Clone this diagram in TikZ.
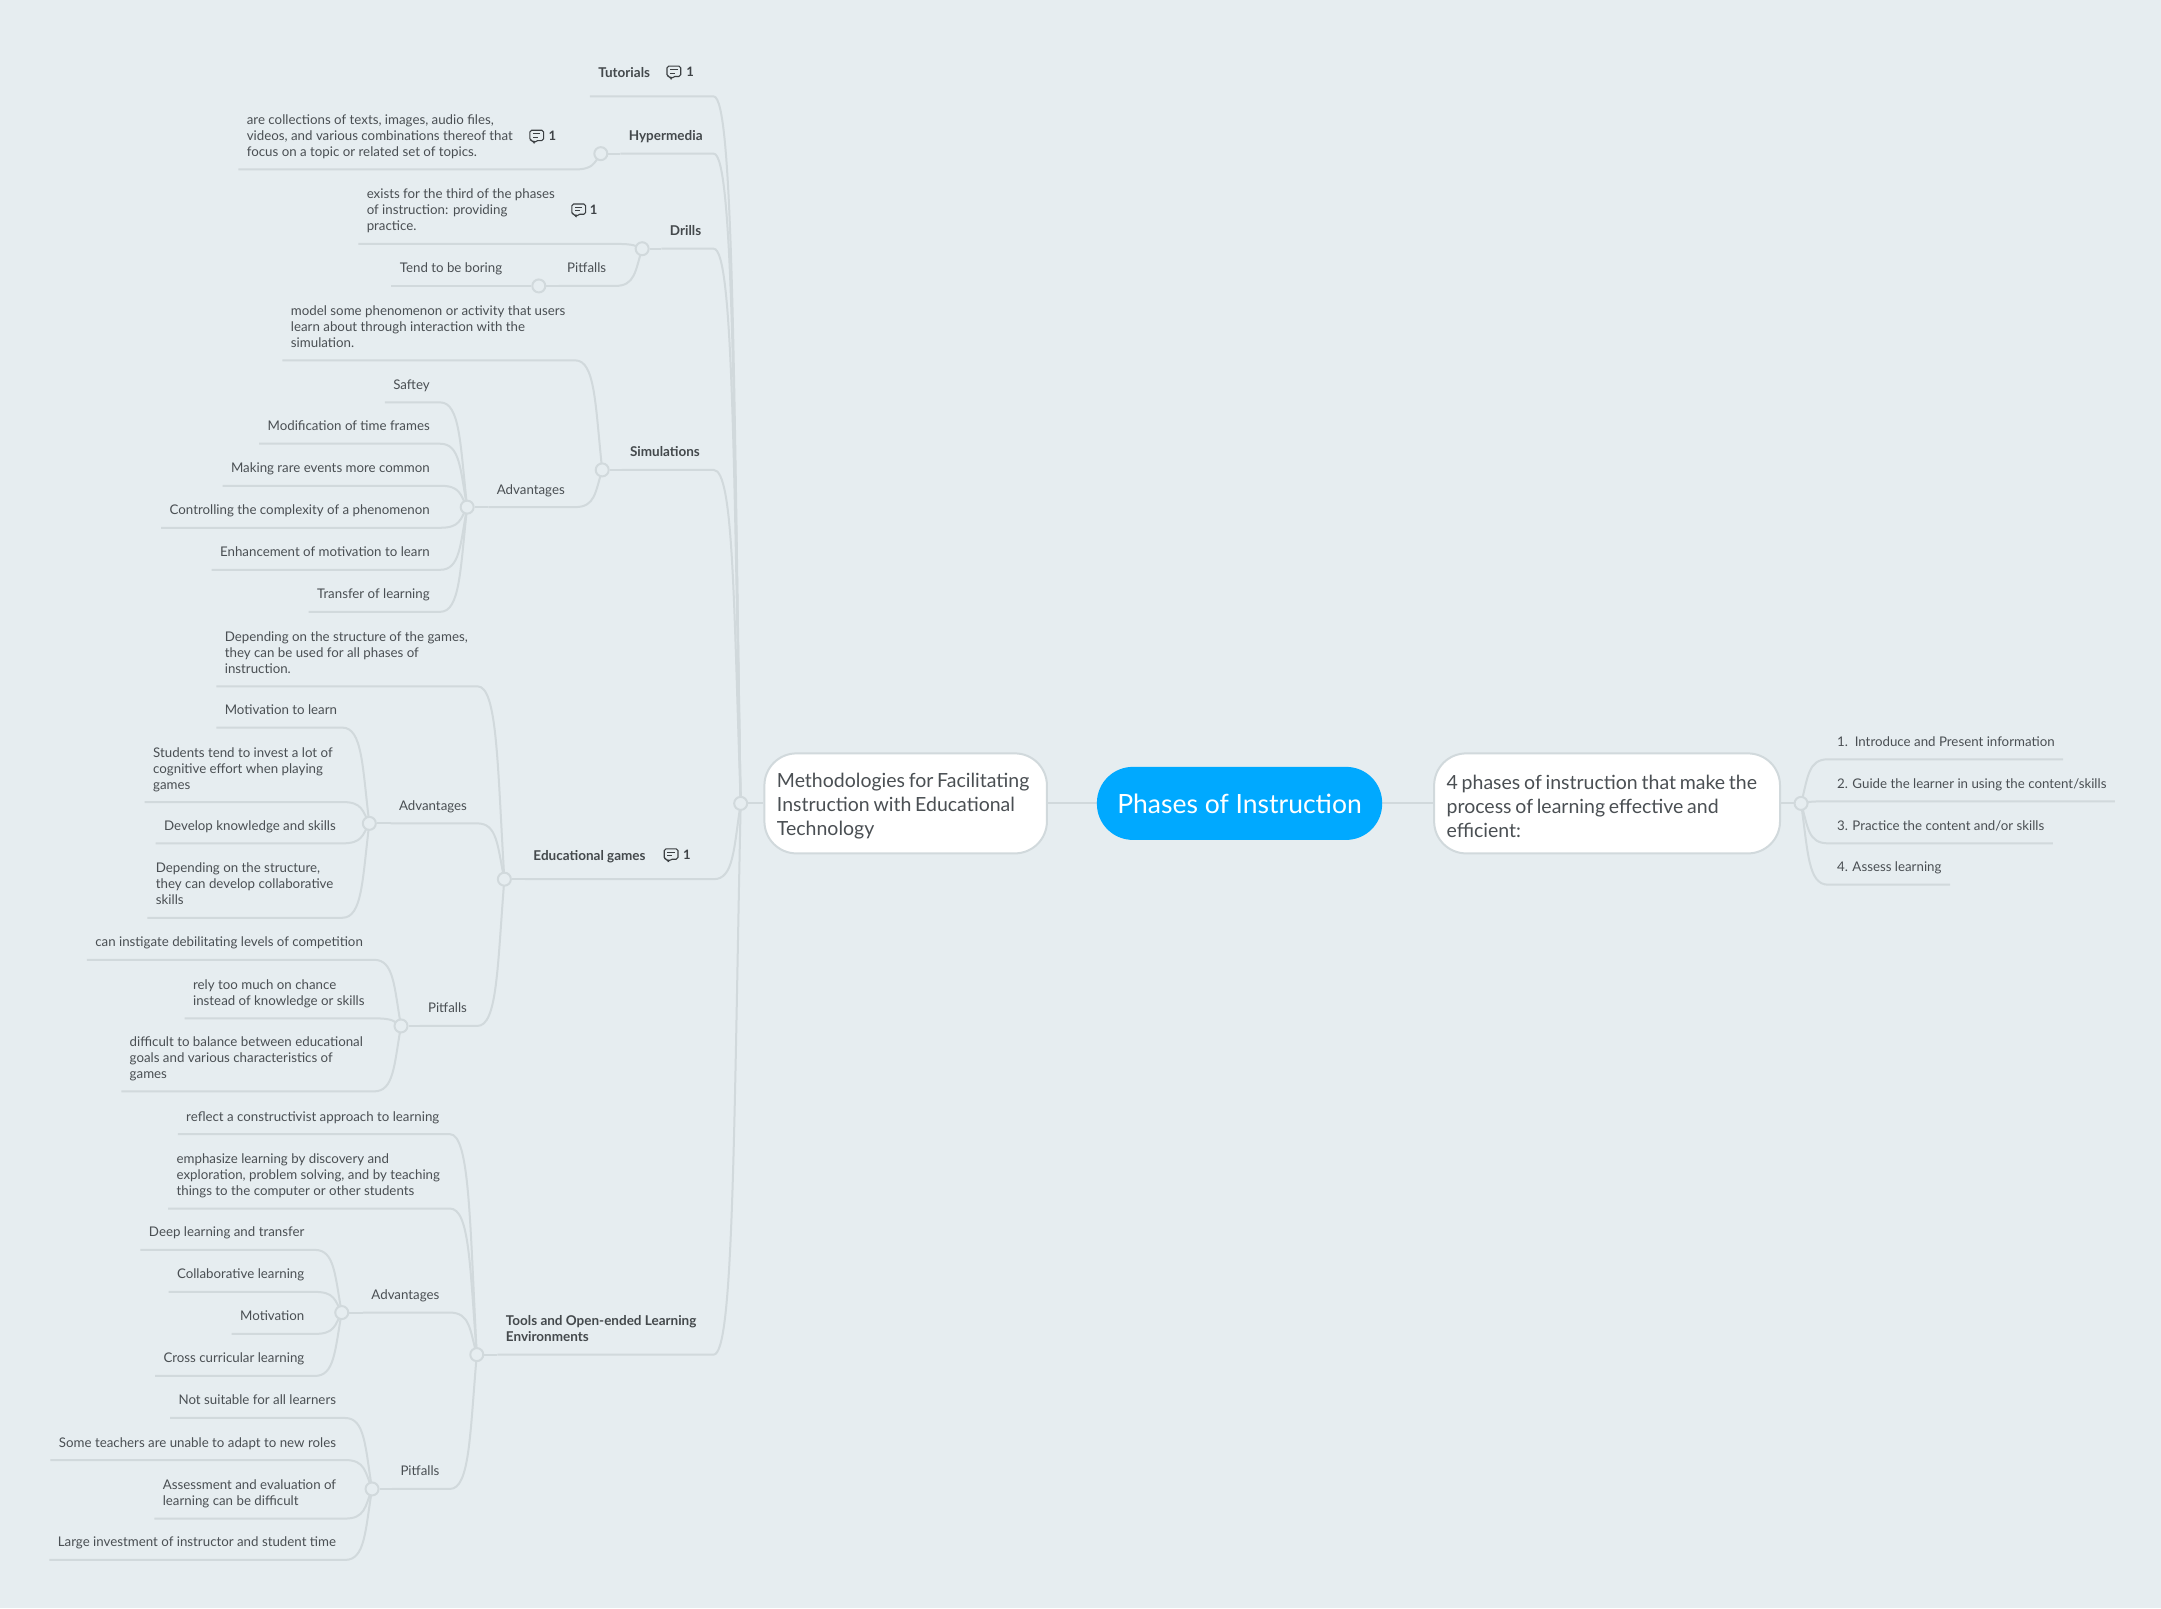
\documentclass[tikz,border=0pt]{standalone}
\usepackage{fontspec}
\setmainfont{Lato}
\usetikzlibrary{calc,backgrounds}
\definecolor{bgcol}{HTML}{E6EDF0}
\definecolor{linecol}{HTML}{D1D9DC}
\definecolor{inkcol}{HTML}{4A4F53}
\definecolor{topcol}{HTML}{00A9FF}
\newcommand{\lk}[2]{\draw[link] let \p1=(#1.south west), \p2=(#2) in (\p1) -- (\x2-27pt,\y1) .. controls (\x2-7pt,\y1) and (\x2-7pt,{\y1+0.4*(\y2-\y1)}) .. (\p2);}
\newcommand{\rk}[2]{\draw[link] let \p1=(#1.south east), \p2=(#2) in (\p1) -- (\x2+27pt,\y1) .. controls (\x2+7pt,\y1) and (\x2+7pt,{\y1+0.4*(\y2-\y1)}) .. (\p2);}
\newcommand{\jk}[2]{\draw[link] (#1) -- (#2.south west);}
\tikzset{
  link/.style={draw=linecol,line width=2pt},
  joint/.style={circle,draw=linecol,line width=2pt,fill=bgcol,inner sep=0pt,minimum size=13pt},
  leaf/.style={anchor=south west,text=inkcol,align=left,inner xsep=6*1.378pt,inner ysep=8pt,
    font=\fontsize{13.3}{16}\selectfont,
    execute at begin node=\strut,execute at end node=\strut},
  leafr/.style={leaf,anchor=south east,align=right},
  head/.style={leaf,font=\fontsize{13.5}{16}\selectfont\bfseries,text=inkcol!92!black},
  headr/.style={head,anchor=south east,align=right},
  big/.style={rounded corners=32pt,draw=linecol,line width=2pt,fill=white,text=inkcol,align=left,anchor=west,
    text width=#1*1.378pt-25pt,inner xsep=12.5pt,inner ysep=0pt,minimum height=100pt,font=\fontsize{19.5}{24}\selectfont,
    execute at begin node={\spaceskip=.193em\rightskip=-10pt plus 1fil\rule{0pt}{20pt}}},
  num/.style={text=inkcol!85!black,font=\fontsize{13}{16}\selectfont\bfseries,anchor=west,inner sep=0pt},
  cmt/.pic={
    \draw[inkcol!80!black,line width=1.1pt,rounded corners=1.8pt] (-5,-4.5) -- (5,-4.5) -- (5,3) -- (-0.5,3) -- (-2,4.8) -- (-2.6,3) -- (-5,3) -- cycle;
    \draw[inkcol!80!black,line width=1pt] (-2.7,-1.8) -- (2.7,-1.8) (-2.7,0.5) -- (0.6,0.5);
  }
}
\begin{document}
\begin{tikzpicture}[x=1.378pt,y=-1.378pt]
\useasboundingbox (0,0) rectangle (1568.2,1166.9);
\node[rounded corners=36pt,fill=topcol,text=white,minimum width=207*1.378pt,minimum height=53*1.378pt,inner sep=0pt,font=\fontsize{26.5}{30}\selectfont] (topic) at (899.5,583) {Phases of Instruction};
\node[big=205] (meth) at (554,583) {Methodologies for Facilitating\\Instruction with Educational\\Technology};
\node[big=251] (four) at (1040,583) {4 phases of instruction that make the\\process of learning effective and\\efficient:};
\node[joint] (jmeth) at (537.5,583) {};
\node[joint] (jfour) at (1307,583) {};
\node[joint] (jhyper) at (436,111.5) {};
\node[joint] (jdrill) at (466,180.5) {};
\node[joint] (jpit) at (391,207.5) {};
\node[joint] (jsim) at (437,341) {};
\node[joint] (jadv) at (339,368) {};
\node[joint] (jedu) at (366,638) {};
\node[joint] (jeadv) at (268,597.5) {};
\node[joint] (jepit) at (291,744.5) {};
\node[joint] (jtool) at (346,983) {};
\node[joint] (jtadv) at (248,952.5) {};
\node[joint] (jtpit) at (270,1080.5) {};

\node[leaf] (p1) at (1327,551) {1.\ \ Introduce and Present information};
\node[leaf] (p2) at (1327,581.5) {2. Guide the learner in using the content/skills};
\node[leaf] (p3) at (1327,612) {3. Practice the content and/or skills};
\node[leaf] (p4) at (1327,642) {4. Assess learning};

\node[head,inner ysep=13.8pt] (tut) at (428,70) {Tutorials};
\node[headr] (hyper) at (516,111.5) {Hypermedia};
\node[headr] (drill) at (515,180.5) {Drills};
\node[headr] (sim) at (514,341) {Simulations};
\node[head,inner ysep=13.8pt] (edu) at (381,638) {Educational games};
\node[head] (tool) at (361,983) {Tools and Open-ended Learning\\Environments};

\node[leaf] (hnote) at (173,123) {are collections of texts, images, audio files,\\videos, and various combinations thereof that\\focus on a topic or related set of topics.};
\node[leaf] (dnote) at (260,177) {exists for the third of the phases\\of instruction: providing\\practice.};
\node[leafr] (dpit) at (446,207.5) {Pitfalls};
\node[leaf] (boring) at (284,207.5) {Tend to be boring};

\node[leaf] (snote) at (205,261.5) {model some phenomenon or activity that users\\learn about through interaction with the\\simulation.};
\node[leafr] (sadv) at (416,368) {Advantages};
\node[leafr] (a1) at (318,292) {Saftey};
\node[leafr] (a2) at (318,322) {Modification of time frames};
\node[leafr] (a3) at (318,352.5) {Making rare events more common};
\node[leafr] (a4) at (318,383) {Controlling the complexity of a phenomenon};
\node[leafr] (a5) at (318,413.5) {Enhancement of motivation to learn};
\node[leafr] (a6) at (318,444) {Transfer of learning};

\node[leaf] (enote) at (157,498) {Depending on the structure of the games,\\they can be used for all phases of\\instruction.};
\node[leafr] (eadv) at (345,597.5) {Advantages};
\node[leafr] (epit) at (345,744.5) {Pitfalls};
\node[leaf] (b1) at (157,528) {Motivation to learn};
\node[leaf] (b2) at (105,582) {Students tend to invest a lot of\\cognitive effort when playing\\games};
\node[leaf] (b3) at (113,612) {Develop knowledge and skills};
\node[leaf] (b4) at (107,666) {Depending on the structure,\\they can develop collaborative\\skills};
\node[leaf] (c1) at (63,696.5) {can instigate debilitating levels of competition};
\node[leaf] (c2) at (134,739) {rely too much on chance\\instead of knowledge or skills};
\node[leaf] (c3) at (88,792) {difficult to balance between educational\\goals and various characteristics of\\games};

\node[leaf] (tn1) at (129,823) {reflect a constructivist approach to learning};
\node[leaf] (tn2) at (122,877) {emphasize learning by discovery and\\exploration, problem solving, and by teaching\\things to the computer or other students};
\node[leafr] (tadv) at (325,952.5) {Advantages};
\node[leafr] (tpit) at (325,1080.5) {Pitfalls};
\node[leafr] (d1) at (227,907) {Deep learning and transfer};
\node[leafr] (d2) at (227,937.5) {Collaborative learning};
\node[leafr] (d3) at (227,968) {Motivation};
\node[leafr] (d4) at (227,998.5) {Cross curricular learning};
\node[leafr] (f1) at (250,1029) {Not suitable for all learners};
\node[leafr] (f2) at (250,1059.5) {Some teachers are unable to adapt to new roles};
\node[leaf] (f3) at (112,1102) {Assessment and evaluation of\\learning can be difficult};
\node[leafr] (f4) at (250,1132) {Large investment of instructor and student time};

\pic at (489,52.5) {cmt};
\node[num] (n1) at (498,52) {1};
\pic at (389.5,99) {cmt};
\node[num] (n2) at (398,98.5) {1};
\pic at (420,152.5) {cmt};
\node[num] (n3) at (428,152) {1};
\pic at (487,620.5) {cmt};
\node[num] (n4) at (495.5,620) {1};

\begin{scope}[on background layer]
\fill[bgcol] (0,0) rectangle (1568.2,1166.9);
\draw[link] (meth) -- (topic);
\draw[link] (topic) -- (four);
\draw[link] (jmeth) -- (meth);
\draw[link] (four) -- (jfour);
\rk{p1}{jfour} \rk{p2}{jfour} \rk{p3}{jfour} \rk{p4}{jfour}
\lk{tut}{jmeth} \lk{hyper}{jmeth} \lk{drill}{jmeth} \lk{sim}{jmeth} \lk{edu}{jmeth} \lk{tool}{jmeth}
\jk{jhyper}{hyper} \jk{jdrill}{drill} \jk{jsim}{sim} \jk{jedu}{edu} \jk{jtool}{tool}
\lk{hnote}{jhyper}
\lk{dnote}{jdrill} \lk{dpit}{jdrill}
\jk{jpit}{dpit}
\draw[link] (boring.south west) -- (jpit);
\lk{snote}{jsim} \lk{sadv}{jsim}
\jk{jadv}{sadv}
\lk{a1}{jadv} \lk{a2}{jadv} \lk{a3}{jadv} \lk{a4}{jadv} \lk{a5}{jadv} \lk{a6}{jadv}
\lk{enote}{jedu} \lk{eadv}{jedu} \lk{epit}{jedu}
\jk{jeadv}{eadv} \jk{jepit}{epit}
\lk{b1}{jeadv} \lk{b2}{jeadv} \lk{b3}{jeadv} \lk{b4}{jeadv}
\lk{c1}{jepit} \lk{c2}{jepit} \lk{c3}{jepit}
\lk{tn1}{jtool} \lk{tn2}{jtool} \lk{tadv}{jtool} \lk{tpit}{jtool}
\jk{jtadv}{tadv} \jk{jtpit}{tpit}
\lk{d1}{jtadv} \lk{d2}{jtadv} \lk{d3}{jtadv} \lk{d4}{jtadv}
\lk{f1}{jtpit} \lk{f2}{jtpit} \lk{f3}{jtpit} \lk{f4}{jtpit}
\end{scope}
\end{tikzpicture}
\end{document}
